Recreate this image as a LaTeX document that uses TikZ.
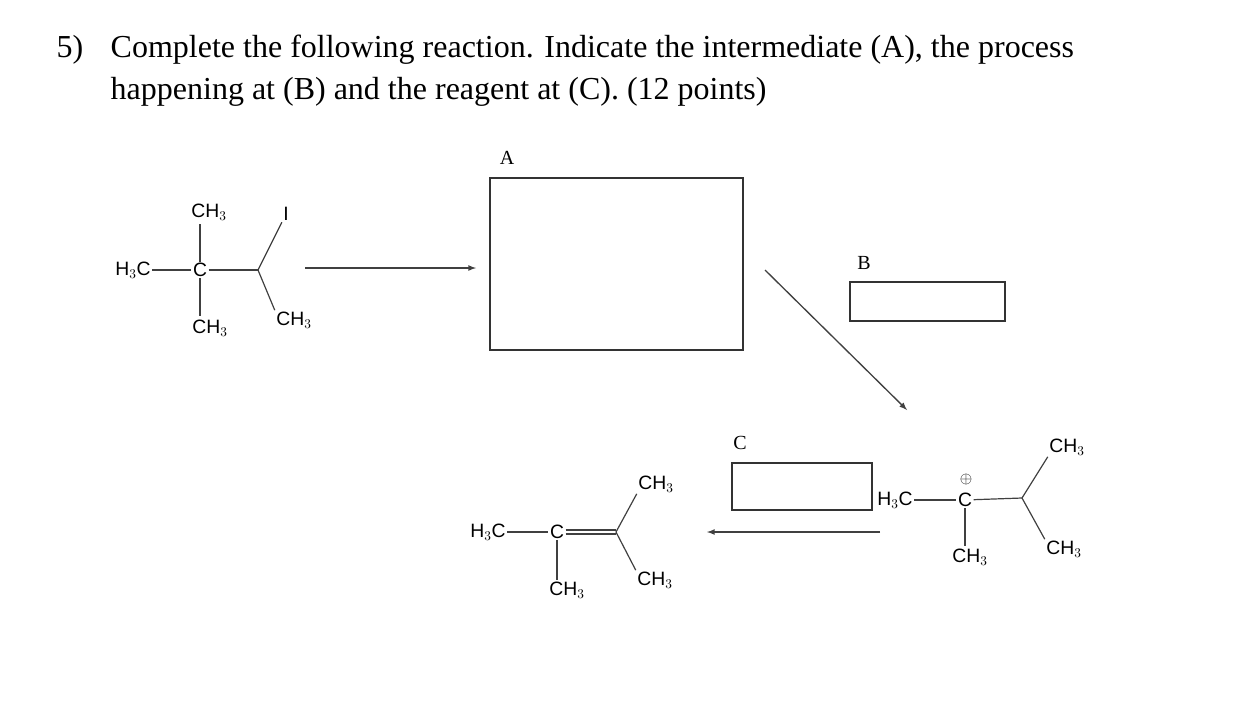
\documentclass[tikz,border=0pt]{standalone}
\usepackage{fontspec}
\setmainfont{Liberation Serif}
\newfontfamily\chemf{Liberation Sans}
\usetikzlibrary{calc}
\begin{document}
\begin{tikzpicture}[x=0.75pt,y=-0.75pt,
  ch/.style={font=\chemf\fontsize{14.5}{15}\selectfont,inner sep=1pt},
  bd/.style={line width=0.9pt,black!75},
  bx/.style={draw,line width=1pt,black!80},
  ar/.style={line width=1pt,black!75,-latex},
  lb/.style={font=\fontsize{15}{16}\selectfont}]
\useasboundingbox (0,0) rectangle (1260,722);
\node[anchor=west,font=\fontsize{24}{28}\selectfont] (n5) at (52,50) {5)};
\node[anchor=west,font=\fontsize{24}{28}\selectfont] (t1) at (106,50) {Complete the following reaction. Indicate the intermediate (A), the process};
\node[anchor=west,font=\fontsize{24}{28}\selectfont] (t2) at (106,92) {happening at (B) and the reagent at (C). (12 points)};
% left molecule
\node[ch] (l1) at (133,270) {H$_3$C};
\node[ch] (l2) at (200,270) {C};
\node[ch] (l3) at (209,212) {CH$_3$};
\node[ch] (l4) at (210,328) {CH$_3$};
\coordinate (l5) at (258,270);
\node[ch] (l6) at (286,214) {I};
\node[ch] (l7) at (294,320) {CH$_3$};
\draw[bd] (l1) -- (l2); \draw[bd] (l2) -- (l5);
\draw[bd] (l2) -- (200,224); \draw[bd] (l2) -- (200,316);
\draw[bd] (l5) -- (l6); \draw[bd] (l5) -- (l7.north west);
% arrow 1 and box A
\coordinate (a1) at (305,268); \coordinate (a2) at (476,268);
\draw[ar] (a1) -- (a2);
\node[bx,minimum width=189.75pt,minimum height=129pt] (A) at (616.5,264) {};
\node[lb] (Al) at (507,158) {A};
\coordinate (d1) at (765,270); \coordinate (d2) at (907,410);
\draw[ar] (d1) -- (d2);
\node[lb] (Bl) at (864,263) {B};
\node[bx,minimum width=116.25pt,minimum height=29.25pt] (Bb) at (927.5,301.5) {};
\node[lb] (Cl) at (740,443) {C};
\node[bx,minimum width=105pt,minimum height=35.25pt] (Cb) at (802,486.5) {};
\coordinate (c1) at (880,532); \coordinate (c2) at (707,532);
\draw[ar] (c1) -- (c2);
% cation
\node[ch] (r1) at (895,500) {H$_3$C};
\node[ch] (r2) at (965,500) {C};
\node[font=\fontsize{12}{12}\selectfont,inner sep=0] (rp) at (966,479) {$\oplus$};
\node[ch] (r3) at (970,557) {CH$_3$};
\coordinate (r4) at (1022,498);
\node[ch] (r5) at (1067,447) {CH$_3$};
\node[ch] (r6) at (1064,549) {CH$_3$};
\draw[bd] (r1) -- (r2); \draw[bd] (r2) -- (r4);
\draw[bd] (r2) -- (965,546);
\draw[bd] (r4) -- (r5.south west); \draw[bd] (r4) -- (r6.north west);
% alkene
\node[ch] (p1) at (488,532) {H$_3$C};
\node[ch] (p2) at (557,532) {C};
\coordinate (p3) at (616,532);
\node[ch] (p4) at (567,590) {CH$_3$};
\node[ch] (p5) at (656,484) {CH$_3$};
\node[ch] (p6) at (655,580) {CH$_3$};
\draw[bd] (p1) -- (p2);
\draw[bd] ($(p2.east)+(0,-2)$) -- ($(p3)+(0,-2)$);
\draw[bd] ($(p2.east)+(0,2)$) -- ($(p3)+(0,2)$);
\draw[bd] (p2.south) -- (p2.south |- p4.north);
\draw[bd] (p3) -- (p5.south west); \draw[bd] (p3) -- (p6.north west);
\end{tikzpicture}
\end{document}
